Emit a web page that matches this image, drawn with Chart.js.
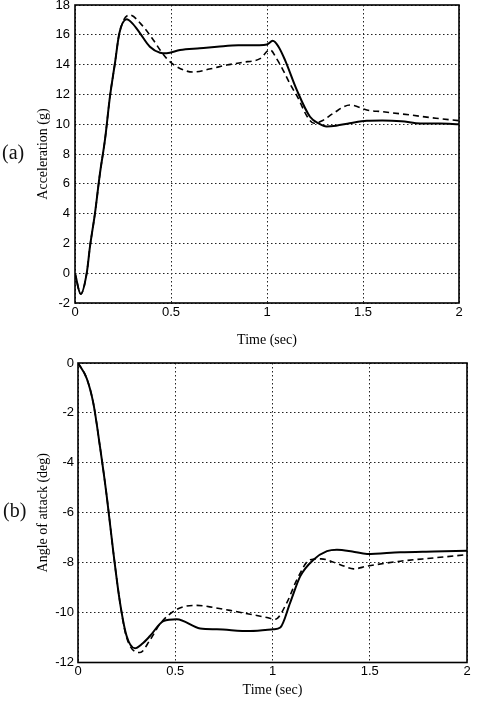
<!DOCTYPE html>
<html><head><meta charset="utf-8">
<script src="https://cdn.jsdelivr.net/npm/chart.js@4/dist/chart.umd.min.js"></script>
<style>
html,body{margin:0;padding:0;background:#fff;}
#wrap{position:relative;width:500px;height:721px;overflow:hidden;background:#fff;}
canvas{position:absolute;left:0;}
.lab{position:absolute;font-family:"Liberation Serif",serif;font-size:20px;color:#111;line-height:1;}
</style></head><body>
<div id="wrap">
<canvas id="ca" width="500" height="350" style="top:0"></canvas>
<canvas id="cb" width="500" height="371" style="top:350px"></canvas>
<div class="lab" style="left:2px;top:142px">(a)</div>
<div class="lab" style="left:3px;top:500px">(b)</div>
</div>
<script>
// ---- tick values / labels ----
const timeTicks = [0, 0.5, 1, 1.5, 2];
const timeTickLabels = ['0', '0.5', '1', '1.5', '2'];
const accelTicks = [-2, 0, 2, 4, 6, 8, 10, 12, 14, 16, 18];
const accelTickLabels = ['-2', '0', '2', '4', '6', '8', '10', '12', '14', '16', '18'];
const angleTicks = [-12, -10, -8, -6, -4, -2, 0];
const angleTickLabels = ['-12', '-10', '-8', '-6', '-4', '-2', '0'];

// ---- (a) acceleration (g) ----
const accelSolidT = [0, 0.03, 0.061, 0.078, 0.104, 0.13, 0.156, 0.182, 0.208, 0.231, 0.269, 0.30, 0.339, 0.39, 0.443, 0.477, 0.547, 0.65, 0.74, 0.85, 0.96, 1.0, 1.03, 1.06, 1.094, 1.155, 1.224, 1.27, 1.31, 1.36, 1.43, 1.52, 1.6, 1.7, 1.8, 1.9, 2.0];
const accelSolid  = [0, -1.4, 0.0, 1.78, 4.02, 6.7, 8.94, 11.85, 14.09, 16.1, 17.04, 16.75, 16.1, 15.2, 14.8, 14.76, 14.98, 15.1, 15.2, 15.3, 15.3, 15.35, 15.6, 15.2, 14.3, 12.3, 10.5, 10.05, 9.85, 9.9, 10.06, 10.23, 10.25, 10.2, 10.05, 10.05, 10.0];
const accelDashedT = [0, 0.03, 0.061, 0.078, 0.104, 0.13, 0.156, 0.182, 0.208, 0.231, 0.283, 0.356, 0.408, 0.443, 0.477, 0.53, 0.616, 0.70, 0.79, 0.87, 0.964, 1.015, 1.05, 1.085, 1.12, 1.16, 1.21, 1.245, 1.29, 1.345, 1.432, 1.52, 1.6, 1.745, 1.88, 2.0];
const accelDashed  = [0, -1.4, 0.0, 1.78, 4.02, 6.7, 8.94, 11.85, 14.09, 16.1, 17.33, 16.54, 15.65, 14.98, 14.42, 13.86, 13.5, 13.7, 13.97, 14.15, 14.4, 15.0, 14.4, 13.6, 12.7, 11.8, 10.5, 10.06, 10.25, 10.73, 11.29, 10.95, 10.84, 10.62, 10.4, 10.24];

// ---- (b) angle of attack (deg) ----
const angleSolidT = [0, 0.045, 0.079, 0.113, 0.148, 0.182, 0.216, 0.25, 0.293, 0.33, 0.37, 0.439, 0.508, 0.628, 0.714, 0.885, 1.005, 1.04, 1.091, 1.143, 1.211, 1.28, 1.331, 1.41, 1.486, 1.657, 1.83, 2.0];
const angleSolid  = [0, -0.62, -1.62, -3.35, -5.35, -7.6, -9.6, -10.94, -11.43, -11.25, -10.94, -10.34, -10.27, -10.64, -10.67, -10.74, -10.67, -10.6, -9.6, -8.54, -7.88, -7.54, -7.48, -7.55, -7.65, -7.58, -7.55, -7.52];
const angleDashedT = [0, 0.045, 0.079, 0.113, 0.148, 0.182, 0.216, 0.25, 0.319, 0.37, 0.422, 0.508, 0.611, 0.7, 0.8, 0.971, 1.014, 1.074, 1.126, 1.194, 1.25, 1.348, 1.417, 1.486, 1.657, 1.829, 2.0];
const angleDashed  = [0, -0.62, -1.62, -3.35, -5.35, -7.6, -9.6, -11.0, -11.6, -11.1, -10.45, -9.87, -9.71, -9.8, -9.94, -10.2, -10.27, -9.6, -8.67, -7.88, -7.85, -8.08, -8.25, -8.14, -7.94, -7.81, -7.68];

const toXY = (ts, vs) => ts.map((t, i) => ({x: t, y: vs[i]}));

const framePlugin = {
  id: 'frame',
  afterDatasetsDraw(chart) {
    const {ctx, chartArea: a} = chart;
    ctx.save();
    ctx.strokeStyle = '#000';
    ctx.lineWidth = 1.6;
    ctx.strokeRect(a.left, a.top, a.right - a.left, a.bottom - a.top);
    ctx.restore();
  }
};

function makeChart(id, o) {
  const tickFont = {family: '"Liberation Sans", Arial, sans-serif', size: 13};
  const titleFont = {family: '"Liberation Serif", "Times New Roman", serif', size: 14};
  return new Chart(document.getElementById(id), {
    type: 'line',
    data: {
      datasets: [
        {data: toXY(o.solidT, o.solid), borderColor: '#000', borderWidth: 2, pointRadius: 0, fill: false, cubicInterpolationMode: 'monotone'},
        {data: toXY(o.dashedT, o.dashed), borderColor: '#000', borderWidth: 1.6, borderDash: [6, 4], pointRadius: 0, fill: false, cubicInterpolationMode: 'monotone'}
      ]
    },
    options: {
      responsive: false,
      animation: false,
      devicePixelRatio: 1,
      layout: {padding: o.pad},
      plugins: {legend: {display: false}, tooltip: {enabled: false}},
      scales: {
        x: {
          type: 'linear', min: 0, max: 2,
          afterBuildTicks: s => { s.ticks = timeTicks.map(v => ({value: v})); },
          ticks: {callback: v => timeTickLabels[timeTicks.indexOf(v)], font: tickFont, color: '#000', padding: o.xTickPad, maxRotation: 0, autoSkip: false},
          grid: {color: '#222', lineWidth: 1, drawTicks: false},
          border: {display: false, dash: [1.5, 2.5]},
          title: {display: true, text: 'Time (sec)', font: titleFont, color: '#000', padding: {top: 0, bottom: o.xTitlePad}},
          afterFit: s => { s.height = o.xH; s.paddingLeft = 0; s.paddingRight = 0; }
        },
        y: {
          type: 'linear', min: o.yMin, max: o.yMax,
          afterBuildTicks: s => { s.ticks = o.yTicks.map(v => ({value: v})); },
          ticks: {callback: v => o.yTickLabels[o.yTicks.indexOf(v)], font: tickFont, color: '#000', padding: o.yTickPad, autoSkip: false},
          grid: {color: '#222', lineWidth: 1, drawTicks: false},
          border: {display: false, dash: [1.5, 2.5]},
          title: {display: true, text: o.yTitle, font: titleFont, color: '#000', padding: {top: o.yTitlePad, bottom: 0}},
          afterFit: s => { s.width = o.yW; s.paddingTop = 0; s.paddingBottom = 0; }
        }
      }
    },
    plugins: [framePlugin]
  });
}

makeChart('ca', {
  solidT: accelSolidT, solid: accelSolid, dashedT: accelDashedT, dashed: accelDashed,
  pad: {left: 0, top: 5, right: 41, bottom: 0},
  xH: 47, xTickPad: 2, xTitlePad: 1,
  yMin: -2, yMax: 18, yTicks: accelTicks, yTickLabels: accelTickLabels,
  yW: 75, yTickPad: 5, yTitle: 'Acceleration (g)', yTitlePad: 34.6
});

makeChart('cb', {
  solidT: angleSolidT, solid: angleSolid, dashedT: angleDashedT, dashed: angleDashed,
  pad: {left: 0, top: 13, right: 33, bottom: 0},
  xH: 58.5, xTickPad: 1, xTitlePad: 22.6,
  yMin: -12, yMax: 0, yTicks: angleTicks, yTickLabels: angleTickLabels,
  yW: 78, yTickPad: 4, yTitle: 'Angle of attack (deg)', yTitlePad: 35
});
</script>
</body></html>
